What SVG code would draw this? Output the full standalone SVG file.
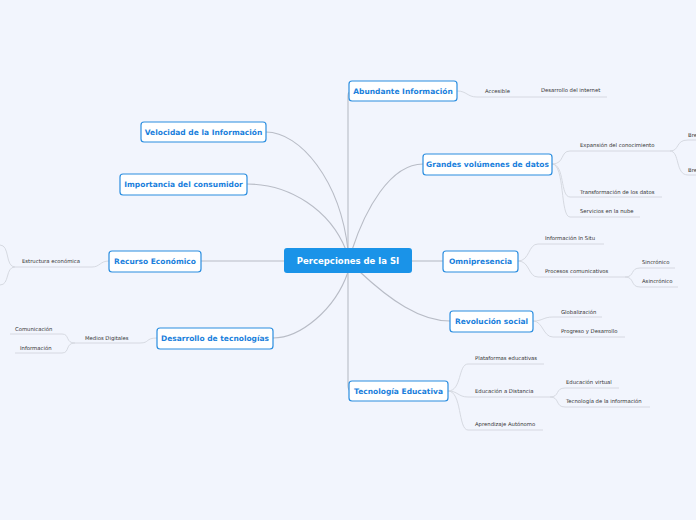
<svg xmlns="http://www.w3.org/2000/svg" width="696" height="520" viewBox="0 0 696 520">
<style>
.m rect{fill:#fff;stroke:#2b8ee0;stroke-width:1.2}
.m text{font:bold 7.5px "DejaVu Sans",sans-serif;fill:#1a7fdc;text-anchor:middle}
.s{font:5.3px "DejaVu Sans",sans-serif;fill:#333}
.c path{fill:none;stroke:#b8bcc6;stroke-width:1.1}
.u path{fill:none;stroke:#d3d6de;stroke-width:0.9}
</style>
<rect width="696" height="520" fill="#f2f5fd"/>
<g class="c">
<path d="M348 261 V96 Q348 91 352 91"/>
<path d="M348 261 V386 Q348 391 352 391"/>
<path d="M348 250 C340 180 300 132 266 132"/>
<path d="M346 250 C330 210 290 184 247 184"/>
<path d="M284 261 H201"/>
<path d="M348 272 C335 310 300 338 273 338"/>
<path d="M352 250 C365 210 390 164 423 164"/>
<path d="M412 261 H443"/>
<path d="M360 272 C390 300 420 321 450 321"/>
</g>
<g class="u">
<path d="M457 91 C467 91 467 97 477 97 H607"/>
<path d="M552 164 C565 164 560 151 570 151 H670 C680 151 675 140 688 140 H696 M670 151 C680 151 675 175 688 175 H696"/>
<path d="M552 164 C565 164 560 197 570 197 H662 M552 164 C565 164 560 217 570 217 H640"/>
<path d="M518 261 C530 261 528 244 538 244 H604 M518 261 C530 261 528 277 538 277 H625 C635 277 630 268 640 268 H675 M625 277 C635 277 630 287 640 287 H678"/>
<path d="M533 321 C543 321 543 317 553 317 H602 M533 321 C543 321 543 337 553 337 H625"/>
<path d="M448 391 C462 391 458 364 468 364 H544 M448 391 C458 391 458 397 468 397 H550 M448 391 C462 391 458 430 468 430 H543"/>
<path d="M550 397 C560 397 555 388 565 388 H619 M550 397 C560 397 555 407 565 407 H650"/>
<path d="M109 261 C100 261 100 267 92 267 H15 C5 267 10 245 0 245 M15 267 C5 267 10 285 0 285"/>
<path d="M157 338 C145 338 150 343 140 343 H75 C65 343 70 334 62 334 H10 M75 343 C65 343 70 353 62 353 H15"/>
</g>
<g id="center"><rect x="284" y="248" width="128" height="25" rx="3" fill="#1a93e8"/><text x="348" y="264" style="font:bold 8.5px 'DejaVu Sans',sans-serif;fill:#fff;text-anchor:middle">Percepciones de la SI</text></g>
<g id="n1" class="m"><rect x="349" y="81" width="108" height="20" rx="3"/><text x="403" y="94">Abundante Información</text></g>
<g id="n2" class="m"><rect x="141" y="122" width="125" height="20" rx="3"/><text x="203.5" y="135">Velocidad de la Información</text></g>
<g id="n3" class="m"><rect x="120" y="174" width="127" height="21" rx="3"/><text x="183.5" y="187">Importancia del consumidor</text></g>
<g id="n4" class="m"><rect x="423" y="154" width="129" height="21" rx="3"/><text x="487.5" y="167">Grandes volúmenes de datos</text></g>
<g id="n5" class="m"><rect x="109" y="251" width="92" height="21" rx="3"/><text x="155" y="264">Recurso Económico</text></g>
<g id="n6" class="m"><rect x="443" y="251" width="75" height="21" rx="3"/><text x="480.5" y="264">Omnipresencia</text></g>
<g id="n7" class="m"><rect x="450" y="311" width="83" height="21" rx="3"/><text x="491.5" y="324">Revolución social</text></g>
<g id="n8" class="m"><rect x="157" y="328" width="116" height="21" rx="3"/><text x="215" y="341">Desarrollo de tecnologías</text></g>
<g id="n9" class="m"><rect x="349" y="381" width="99" height="20" rx="3"/><text x="398.5" y="394">Tecnología Educativa</text></g>
<g id="subs">
<text class="s" x="485" y="93">Accesible</text>
<text class="s" x="541" y="92">Desarrollo del internet</text>
<text class="s" x="580" y="147">Expansión del conocimiento</text>
<text class="s" x="688" y="137">Bre</text>
<text class="s" x="688" y="172">Bre</text>
<text class="s" x="580" y="194">Transformación de los datos</text>
<text class="s" x="580" y="213">Servicios en la nube</text>
<text class="s" x="545" y="240">Información In Situ</text>
<text class="s" x="545" y="273">Procesos comunicativos</text>
<text class="s" x="642" y="264">Sincrónico</text>
<text class="s" x="642" y="283">Asincrónico</text>
<text class="s" x="561" y="314">Globalización</text>
<text class="s" x="561" y="333">Progreso y Desarrollo</text>
<text class="s" x="475" y="360">Plataformas educativas</text>
<text class="s" x="475" y="393">Educación a Distancia</text>
<text class="s" x="566" y="384">Educación virtual</text>
<text class="s" x="566" y="403">Tecnología de la información</text>
<text class="s" x="475" y="426">Aprendizaje Autónomo</text>
<text class="s" x="22" y="263">Estructura económica</text>
<text class="s" x="85" y="340">Medios Digitales</text>
<text class="s" x="15" y="331">Comunicación</text>
<text class="s" x="20" y="350">Información</text>
</g>
</svg>
